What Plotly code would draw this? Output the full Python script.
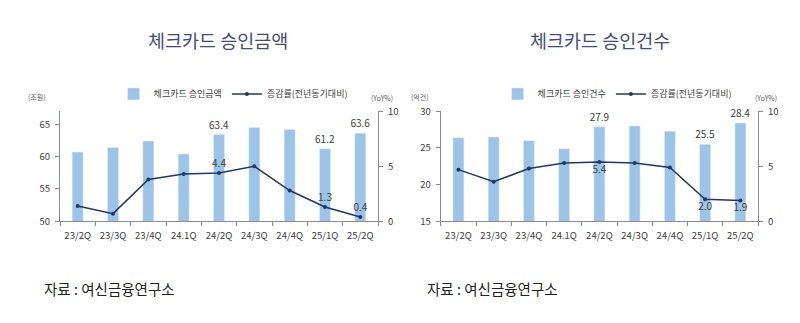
import plotly.graph_objects as go

# Quarter labels shared by both panels
quarters = ["23/2Q", "23/3Q", "23/4Q", "24.1Q", "24/2Q", "24/3Q", "24/4Q", "25/1Q", "25/2Q"]

# Check-card approval amount (trillion won) and YoY growth (%)
amount = [60.7, 61.4, 62.4, 60.4, 63.4, 64.5, 64.2, 61.2, 63.6]
amount_yoy = [1.4, 0.7, 3.8, 4.3, 4.4, 5.0, 2.8, 1.3, 0.4]

# Check-card approval count (100 million) and YoY growth (%)
count = [26.4, 26.5, 26.0, 24.9, 27.9, 28.0, 27.3, 25.5, 28.4]
count_yoy = [4.7, 3.6, 4.8, 5.3, 5.4, 5.3, 4.9, 2.0, 1.9]

# Points that carry a value label
labeled = {"24/2Q", "25/1Q", "25/2Q"}

BAR = "#9DC3E6"
LINE = "#203864"
TXT = "#404040"
FONT = "Noto Sans CJK KR"


def labels(vals):
    return [f"{v:.1f}" if q in labeled else "" for q, v in zip(quarters, vals)]


lab_font = dict(size=10, color=TXT, family=FONT)

fig = go.Figure()

# Left panel
fig.add_trace(go.Bar(
    x=quarters, y=amount, name="체크카드 승인금액", marker_color=BAR, width=0.31,
    text=labels(amount), textposition="outside", cliponaxis=False, constraintext="none",
    textfont=lab_font, xaxis="x", yaxis="y", legend="legend"))
fig.add_trace(go.Scatter(
    x=quarters, y=amount_yoy, name="증감률(전년동기대비)", mode="lines+markers+text",
    line=dict(color=LINE, width=1.5), marker=dict(size=4, color=LINE),
    text=labels(amount_yoy), textposition="top center", cliponaxis=False,
    textfont=lab_font, xaxis="x", yaxis="y2", legend="legend"))

# Right panel
fig.add_trace(go.Bar(
    x=quarters, y=count, name="체크카드 승인건수", marker_color=BAR, width=0.31,
    text=labels(count), textposition="outside", cliponaxis=False, constraintext="none",
    textfont=lab_font, xaxis="x2", yaxis="y3", legend="legend2"))
fig.add_trace(go.Scatter(
    x=quarters, y=count_yoy, name="증감률(전년동기대비)", mode="lines+markers+text",
    line=dict(color=LINE, width=1.5), marker=dict(size=4, color=LINE),
    text=labels(count_yoy), textposition="bottom center", cliponaxis=False,
    textfont=lab_font, xaxis="x2", yaxis="y4", legend="legend2"))

ydom = [0.3096, 0.6656]
axis_common = dict(showline=True, linecolor="#8c8c8c", linewidth=1, ticks="outside",
                   ticklen=4, tickcolor="#8c8c8c", showgrid=False, zeroline=False,
                   tickfont=dict(size=9.5, color=TXT, family=FONT))
x_common = dict(type="category", tickangle=0, tickson="boundaries", range=[-0.5, 8.5],
                ticklabelstandoff=5, **axis_common)
y_common = dict(ticklabelstandoff=3, **axis_common)

legend_common = dict(orientation="h", xanchor="left", yanchor="middle",
                     font=dict(size=9, color=TXT, family=FONT), bgcolor="rgba(0,0,0,0)",
                     itemwidth=30, tracegroupgap=0)

fig.update_layout(
    width=800, height=323, margin=dict(l=0, r=0, t=0, b=0),
    paper_bgcolor="white", plot_bgcolor="white",
    font=dict(family=FONT, color=TXT),
    xaxis=dict(domain=[0.075, 0.4725], anchor="y", **x_common),
    yaxis=dict(domain=ydom, anchor="x", range=[50, 67], tickvals=[50, 55, 60, 65], **y_common),
    yaxis2=dict(overlaying="y", anchor="x", side="right", range=[0, 10],
                tickvals=[0, 5, 10], **y_common),
    xaxis2=dict(domain=[0.551, 0.9475], anchor="y3", **x_common),
    yaxis3=dict(domain=ydom, anchor="x2", range=[15, 30], tickvals=[15, 20, 25, 30], **y_common),
    yaxis4=dict(overlaying="y3", anchor="x2", side="right", range=[0, 10],
                tickvals=[0, 5, 10], **y_common),
    legend=dict(x=0.142, y=0.722, **legend_common),
    legend2=dict(x=0.622, y=0.722, **legend_common),
    showlegend=True,
)

title_font = dict(size=18.5, color="#3f4f78", family=FONT)
unit_font = dict(size=7, color="#606060", family=FONT)
src_font = dict(size=14.5, color="#222222", family=FONT)

annos = [
    dict(text="체크카드 승인금액", x=218, y=33, font=title_font),
    dict(text="체크카드 승인건수", x=600, y=33, font=title_font),
    dict(text="(조원)", x=37, y=93, font=unit_font),
    dict(text="(YoY%)", x=382, y=94, font=unit_font),
    dict(text="(억건)", x=420, y=93, font=unit_font),
    dict(text="(YoY%)", x=766, y=94, font=unit_font),
    dict(text="자료 : 여신금융연구소", x=42, y=293, font=src_font, xanchor="left"),
    dict(text="자료 : 여신금융연구소", x=425, y=293, font=src_font, xanchor="left"),
]
for a in annos:
    fig.add_annotation(
        text=a["text"], x=a["x"] / 800, y=1 - a["y"] / 323, xref="paper", yref="paper",
        xanchor=a.get("xanchor", "center"), yanchor="middle", showarrow=False, font=a["font"])

fig.write_html("out.html")
